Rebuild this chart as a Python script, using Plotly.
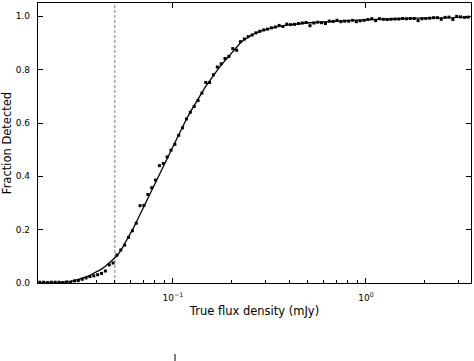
import math
import plotly.graph_objects as go

# log10 of true flux density (mJy) for each bin
LOG_FLUX = [
    -1.69, -1.67, -1.65, -1.63, -1.61, -1.59, -1.57, -1.55, -1.53, -1.51,
    -1.49, -1.47, -1.45, -1.43, -1.41, -1.39, -1.37, -1.35, -1.33, -1.31,
    -1.29, -1.27, -1.25, -1.23, -1.21, -1.19, -1.17, -1.15, -1.13, -1.11,
    -1.09, -1.07, -1.05, -1.03, -1.01, -0.99, -0.97, -0.95, -0.93, -0.91,
    -0.89, -0.87, -0.85, -0.83, -0.81, -0.79, -0.77, -0.75, -0.73, -0.71,
    -0.69, -0.67, -0.65, -0.63, -0.61, -0.59, -0.57, -0.55, -0.53, -0.51,
    -0.49, -0.47, -0.45, -0.43, -0.41, -0.39, -0.37, -0.35, -0.33, -0.31,
    -0.29, -0.27, -0.25, -0.23, -0.21, -0.19, -0.17, -0.15, -0.13, -0.11,
    -0.09, -0.07, -0.05, -0.03, -0.01, 0.01, 0.03, 0.05, 0.07, 0.09,
    0.11, 0.13, 0.15, 0.17, 0.19, 0.21, 0.23, 0.25, 0.27, 0.29,
    0.31, 0.33, 0.35, 0.37, 0.39, 0.41, 0.43, 0.45, 0.47, 0.49,
    0.51, 0.53,
]

# fitted completeness curve
MODEL = [
    0.000, 0.000, 0.000, 0.001, 0.001, 0.001, 0.003, 0.004, 0.006, 0.009,
    0.013, 0.018, 0.023, 0.029, 0.036, 0.044, 0.052, 0.063, 0.075, 0.087,
    0.101, 0.122, 0.146, 0.172, 0.199, 0.228, 0.258, 0.287, 0.316, 0.346,
    0.375, 0.406, 0.437, 0.468, 0.499, 0.528, 0.557, 0.587, 0.615, 0.641,
    0.667, 0.691, 0.714, 0.737, 0.759, 0.779, 0.798, 0.817, 0.834, 0.851,
    0.868, 0.885, 0.901, 0.912, 0.923, 0.931, 0.938, 0.944, 0.948, 0.952,
    0.956, 0.959, 0.962, 0.965, 0.967, 0.969, 0.971, 0.973, 0.974, 0.975,
    0.976, 0.977, 0.978, 0.979, 0.980, 0.981, 0.982, 0.983, 0.983, 0.984,
    0.985, 0.985, 0.986, 0.986, 0.987, 0.987, 0.988, 0.988, 0.989, 0.989,
    0.990, 0.990, 0.991, 0.991, 0.991, 0.992, 0.992, 0.992, 0.993, 0.993,
    0.993, 0.994, 0.994, 0.994, 0.995, 0.995, 0.995, 0.995, 0.996, 0.996,
    0.996, 0.996,
]

# measured fraction detected in each bin
DETECTED = [
    0.003, 0.003, 0.002, 0.003, 0.003, 0.003, 0.002, 0.004, 0.003, 0.008,
    0.009, 0.014, 0.019, 0.024, 0.027, 0.031, 0.036, 0.045, 0.068, 0.075,
    0.105, 0.124, 0.142, 0.171, 0.196, 0.224, 0.290, 0.291, 0.332, 0.357,
    0.386, 0.440, 0.448, 0.473, 0.498, 0.520, 0.554, 0.582, 0.615, 0.640,
    0.662, 0.684, 0.712, 0.752, 0.752, 0.781, 0.810, 0.822, 0.842, 0.850,
    0.879, 0.873, 0.905, 0.915, 0.924, 0.930, 0.938, 0.944, 0.949, 0.952,
    0.957, 0.960, 0.966, 0.962, 0.971, 0.969, 0.970, 0.973, 0.975, 0.977,
    0.965, 0.975, 0.978, 0.976, 0.973, 0.982, 0.981, 0.985, 0.980, 0.982,
    0.982, 0.985, 0.980, 0.983, 0.985, 0.988, 0.991, 0.984, 0.991, 0.989,
    0.988, 0.989, 0.990, 0.990, 0.992, 0.991, 0.992, 0.992, 0.984, 0.991,
    0.992, 0.993, 0.995, 0.995, 0.989, 0.996, 0.997, 0.988, 1.000, 0.998,
    0.996, 0.997,
]

LIMIT = 0.05          # flux limit (dashed line), mJy
X_RANGE = [0.02, 3.5]  # mJy
Y_RANGE = [0.0, 1.05]
Y_TICKS = [0.0, 0.2, 0.4, 0.6, 0.8, 1.0]
Y_TICKTEXT = ["0.0", "0.2", "0.4", "0.6", "0.8", "1.0"]
X_TICKS = [0.1, 1.0]
X_TICKTEXT = ["10<sup>\u22121</sup>", "10<sup>0</sup>"]

flux = [10 ** v for v in LOG_FLUX]
xr = [math.log10(v) for v in X_RANGE]

FONT = "DejaVu Sans"

fig = go.Figure()
fig.add_trace(go.Scatter(
    x=[LIMIT, LIMIT], y=Y_RANGE, mode="lines",
    line=dict(color="#7a7a7a", width=1, dash="3px,2px"),
    hoverinfo="skip", showlegend=False))
fig.add_trace(go.Scatter(
    x=flux, y=MODEL, mode="lines",
    line=dict(color="black", width=1.3),
    showlegend=False))
fig.add_trace(go.Scatter(
    x=flux, y=DETECTED, mode="markers",
    marker=dict(color="black", size=3, symbol="square"),
    showlegend=False))
# helper trace for the top axis (major ticks only)
fig.add_trace(go.Scatter(
    x=[0.1], y=[0.5], xaxis="x2", yaxis="y", mode="markers",
    marker=dict(opacity=0), hoverinfo="skip", showlegend=False))

fig.update_layout(
    width=474, height=361,
    margin=dict(l=38, r=3, t=3, b=78, autoexpand=False),
    paper_bgcolor="white", plot_bgcolor="white",
    font=dict(family=FONT, color="black"),
    xaxis=dict(
        type="log", range=xr, automargin=False,
        tickvals=X_TICKS, ticktext=X_TICKTEXT,
        ticks="inside", ticklen=5, tickwidth=1, tickcolor="black",
        minor=dict(ticks="inside", ticklen=3, tickwidth=1, tickcolor="black",
                   dtick="D1", showgrid=False),
        showline=True, linecolor="black", linewidth=1.2, mirror=True,
        showgrid=False, zeroline=False,
        tickfont=dict(size=9, family=FONT),
        ticklabelstandoff=6,
        title=dict(text="True flux density (mJy)", font=dict(size=11.5, family=FONT), standoff=5),
    ),
    xaxis2=dict(
        type="log", range=xr, overlaying="x", side="top", anchor="y",
        automargin=False,
        tickvals=X_TICKS, showticklabels=False,
        ticks="inside", ticklen=5, tickwidth=1, tickcolor="black",
        showline=False, showgrid=False, zeroline=False,
    ),
    yaxis=dict(
        range=Y_RANGE, automargin=False,
        tickvals=Y_TICKS, ticktext=Y_TICKTEXT,
        ticks="inside", ticklen=5, tickwidth=1, tickcolor="black",
        showline=True, linecolor="black", linewidth=1.2, mirror="ticks",
        showgrid=False, zeroline=False,
        tickfont=dict(size=9, family=FONT),
        ticklabelstandoff=5,
        title=dict(text="Fraction Detected", font=dict(size=11.5, family=FONT), standoff=4),
    ),
    shapes=[dict(type="line", xref="paper", yref="paper",
                 x0=(175 - 38) / 433, x1=(175 - 38) / 433,
                 y0=-(354 - 283) / 280, y1=-(361 - 283) / 280,
                 line=dict(color="black", width=1))],
)

fig.write_html(
    "out.html",
    config={"displayModeBar": False},
    post_script="document.body.style.margin='0';document.body.style.overflow='hidden';",
)
